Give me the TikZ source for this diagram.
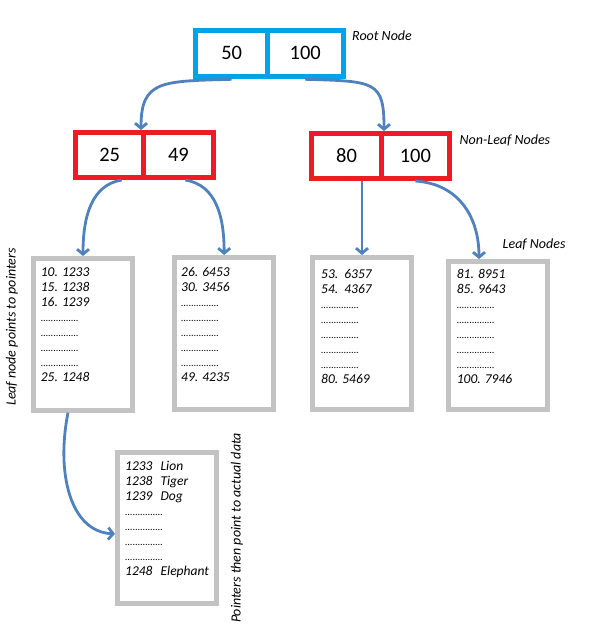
\documentclass[tikz,border=0pt]{standalone}
\usepackage{fontspec}
\setmainfont{Carlito}
\usetikzlibrary{arrows.meta}
\definecolor{rootblue}{RGB}{0,162,232}
\definecolor{nodered}{RGB}{237,28,36}
\definecolor{boxgray}{RGB}{195,195,195}
\definecolor{linkblue}{RGB}{79,129,189}
\newcommand{\dotrow}{{\fontsize{10}{15}\selectfont ...............}}

\begin{document}
\begin{tikzpicture}[x=1pt,y=-1pt,
    keybase/.style={line width=5pt, inner sep=0pt, font=\fontsize{20.5}{24}\selectfont},
    rootcell/.style={keybase, draw=rootblue, minimum height=46.8pt},
    keycell/.style={keybase, draw=nodered, minimum height=45pt},
    leafbox/.style={draw=boxgray, line width=5pt, inner sep=0pt, minimum width=99pt, minimum height=151.7pt},
    entrylist/.style={anchor=base west, align=left, inner sep=0pt, font=\itshape\fontsize{13.5}{15}\selectfont},
    labeltext/.style={font=\itshape\fontsize{14}{16}\selectfont, inner sep=0pt},
    pointerarrow/.style={draw=linkblue, line width=2.8pt, -{Straight Barb[length=5pt,width=12pt]}}]
    \useasboundingbox (0,0) rectangle (590,633);

    % root
    \node[rootcell, minimum width=71.7pt] (rootL) at (231.65,53.4) {50};
    \node[rootcell, minimum width=75.5pt] (rootR) at (305.25,53.4) {100};
    \node[labeltext, anchor=base west] (rootTag) at (352,40) {Root Node};

    % non-leaf nodes
    \node[keycell, minimum width=67.7pt] (nlLL) at (109.65,155) {25};
    \node[keycell, minimum width=69.8pt] (nlLR) at (178.4,155) {49};
    \node[keycell, minimum width=70pt] (nlRL) at (346.5,156) {80};
    \node[keycell, minimum width=67.7pt] (nlRR) at (415.35,156) {100};
    \node[labeltext, anchor=base west] (nonleafTag) at (459.5,144) {Non-Leaf Nodes};

    % leaf nodes
    \node[leafbox] (leafA) at (83,334.35) {};
    \node[leafbox, minimum width=98.7pt] (leafB) at (224.15,333.35) {};
    \node[leafbox] (leafC) at (362,333.35) {};
    \node[leafbox, minimum height=147.7pt] (leafD) at (498,335.35) {};
    \node[labeltext, anchor=base west] (leafTag) at (502.5,248.3) {Leaf Nodes};

    % lists sit on the baseline of their last line
    \node[entrylist] (listA) at (40.7,381.7) {10. 1233\\15. 1238\\16. 1239\\\dotrow\\\dotrow\\\dotrow\\\dotrow\\25. 1248};
    \node[entrylist] (listB) at (181,381.7) {26. 6453\\30. 3456\\\dotrow\\\dotrow\\\dotrow\\\dotrow\\\dotrow\\49. 4235};
    \node[entrylist] (listC) at (321,383.3) {53.\ \ 6357\\54.\ \ 4367\\\dotrow\\\dotrow\\\dotrow\\\dotrow\\\dotrow\\80. 5469};
    \node[entrylist] (listD) at (456.7,383.3) {81. 8951\\85. 9643\\\dotrow\\\dotrow\\\dotrow\\\dotrow\\\dotrow\\100. 7946};

    % data
    \node[leafbox, minimum height=150.7pt] (dataBox) at (167,527.85) {};
    \node[entrylist] (listData) at (125,575.7) {1233\hspace{8pt}Lion\\1238\hspace{8pt}Tiger\\1239\hspace{8pt}Dog\\\dotrow\\\dotrow\\\dotrow\\\dotrow\\1248\hspace{8pt}Elephant};

    \node[labeltext, rotate=90] (leafNote) at (12,327) {Leaf node points to pointers};
    \node[labeltext, rotate=90] (dataNote) at (237,528) {Pointers then point to actual data};

    % arrows
    \draw[pointerarrow] (rootL.south) .. controls +(-70,2) and +(0,-50) .. (nlLR.north west);
    \draw[pointerarrow] (rootR.south) .. controls +(70,2) and +(0,-50) .. (nlRL.north east);
    \draw[pointerarrow] ([xshift=12pt]nlLL.south) .. controls +(-30,5) and +(0,-40) .. (leafA.north);
    \draw[pointerarrow] ([xshift=7pt]nlLR.south) .. controls +(30,5) and +(0,-40) .. (leafB.north);
    \draw[pointerarrow] (leafC.north |- nlRL.south) -- (leafC.north);
    \draw[pointerarrow] (nlRR.south) .. controls +(45,3) and +(0,-40) .. ([xshift=-19pt]leafD.north);
    \draw[pointerarrow] ([xshift=-15pt]leafA.south) .. controls +(-12,60) and +(-45,-2) .. ([yshift=-6pt]dataBox.west);
\end{tikzpicture}
\end{document}
